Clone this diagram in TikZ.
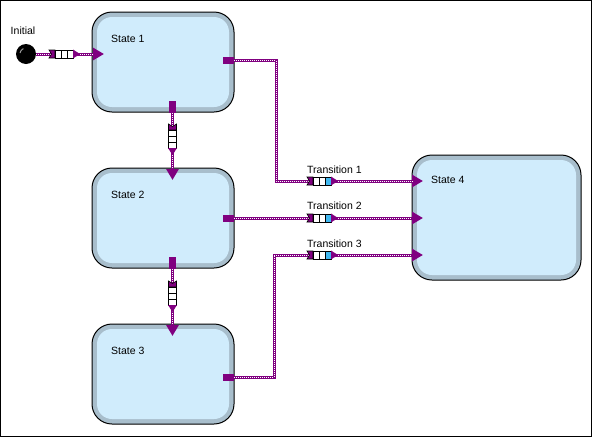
\documentclass[tikz,border=0pt]{standalone}
\usepackage{fontspec}
\setmainfont{Liberation Sans}
\usetikzlibrary{arrows.meta}
\definecolor{stategray}{RGB}{168,190,204}
\definecolor{stateblue}{RGB}{208,236,252}
\definecolor{qpurple}{RGB}{128,0,128}
\definecolor{qblue}{RGB}{64,184,240}
\begin{document}
\begin{tikzpicture}[x=1pt, y=-1pt,
    font=\fontsize{10.5}{12}\selectfont,
    statestyle/.style={rectangle, draw=black, line width=1pt, fill=stategray, rounded corners=20pt, inner sep=0pt,
        path picture={\fill[stateblue, rounded corners=15pt] ([shift={(5pt,-5pt)}]path picture bounding box.north west) rectangle ([shift={(-5pt,5pt)}]path picture bounding box.south east);}},
    labelstyle/.style={anchor=west, inner sep=0pt},
    portstyle/.style={rectangle, fill=qpurple, inner sep=0pt},
    transstyle/.style={draw=qpurple, line width=3pt, -{Triangle[length=11pt, width=12pt]},
        postaction={draw=white, line width=1pt, dash pattern=on 1pt off 1pt, shorten >=11pt, -}},
    pics/queue/.style={code={
        \filldraw[fill=qpurple, draw=black, line width=0.6pt] (0,-4) -- (6,-4) -- (6,4) -- (0,4) -- (2.5,0) -- cycle;
        \fill[white] (6,-4) rectangle (24,4);
        \fill[#1] (18,-4) rectangle (24,4);
        \draw[line width=0.8pt] (6,-4) rectangle (24,4) (12,-4) -- (12,4) (18,-4) -- (18,4);
        \fill[qpurple] (24,-4.5) -- (31,0) -- (24,4.5) -- cycle;
    }}
]
    \useasboundingbox (0,0) rectangle (592,437);
    \draw[line width=1pt] (0.5,0.5) rectangle (591.5,436.5);

    \node[statestyle, minimum width=142pt, minimum height=100pt] (s1) at (163,62) {};
    \node[statestyle, minimum width=142pt, minimum height=100pt] (s2) at (163,218) {};
    \node[statestyle, minimum width=142pt, minimum height=100pt] (s3) at (163,374) {};
    \node[statestyle, minimum width=169pt, minimum height=125pt] (s4) at (496.5,217.5) {};

    \node[labelstyle] (s1lab) at (111,39) {State 1};
    \node[labelstyle] (s2lab) at (111,195) {State 2};
    \node[labelstyle] (s3lab) at (111,351) {State 3};
    \node[labelstyle] (s4lab) at (431,180) {State 4};

    \node[circle, fill=black, minimum size=20pt, inner sep=0pt] (init) at (26,54) {};
    \draw[gray!80, line width=1pt] ([shift={(-6pt,1pt)}]init.center) arc[start angle=170, end angle=115, radius=6pt];
    \node (initlab) at (23,31) {Initial};

    \node[portstyle, minimum width=11pt, minimum height=7pt] (p1r) at (228,60.5) {};
    \node[portstyle, minimum width=7pt, minimum height=12pt] (p1b) at (172.5,107) {};
    \node[portstyle, minimum width=11pt, minimum height=7pt] (p2r) at (228,218) {};
    \node[portstyle, minimum width=7pt, minimum height=12pt] (p2b) at (172.5,263) {};
    \node[portstyle, minimum width=11pt, minimum height=7pt] (p3r) at (228,377) {};

    \coordinate (e1) at (104,54);
    \coordinate (e12) at (172.5,180);
    \coordinate (e23) at (172.5,336);
    \coordinate (t1) at (423,181);
    \coordinate (t2) at (423,218);
    \coordinate (t3) at (423,255);

    \draw[transstyle] (init.east) -- (e1);
    \draw[transstyle] (p1b.center) -- (e12);
    \draw[transstyle] (p2b.center) -- (e23);
    \draw[transstyle] (p1r.center) -- ++(48,0) |- (t1);
    \draw[transstyle] (p2r.center) -- (t2);
    \draw[transstyle] (p3r.center) -- ++(46,0) |- (t3);

    \node[portstyle, minimum width=11pt, minimum height=7pt] at (p1r) {};
    \node[portstyle, minimum width=7pt, minimum height=12pt] at (p1b) {};
    \node[portstyle, minimum width=11pt, minimum height=7pt] at (p2r) {};
    \node[portstyle, minimum width=7pt, minimum height=12pt] at (p2b) {};
    \node[portstyle, minimum width=11pt, minimum height=7pt] at (p3r) {};

    \pic at (49,54) {queue=white};
    \pic[rotate=-90] at (172.5,124) {queue=white};
    \pic[rotate=-90] at (172.5,281) {queue=white};
    \pic at (307,181) {queue=qblue};
    \pic at (307,218) {queue=qblue};
    \pic at (307,255) {queue=qblue};

    \node[labelstyle] (tr1) at (307,170) {Transition 1};
    \node[labelstyle] (tr2) at (307,206) {Transition 2};
    \node[labelstyle] (tr3) at (307,244) {Transition 3};
\end{tikzpicture}
\end{document}
